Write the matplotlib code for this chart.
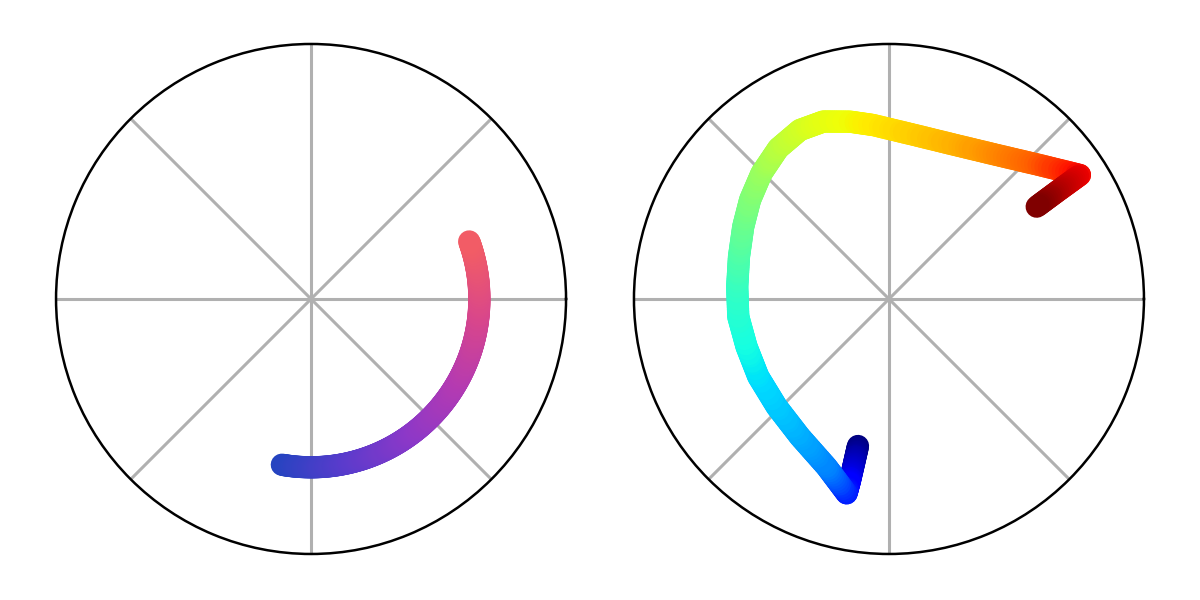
import numpy as np
import matplotlib
matplotlib.use("Agg")
from matplotlib import pyplot as plt
from matplotlib.collections import LineCollection
from matplotlib.colors import LinearSegmentedColormap

# Left plot: arc at constant radius, blue -> pink
left_theta_deg = [-100, -95, -90, -85, -80, -75, -70, -65, -60, -55, -50, -45, -40,
                  -35, -30, -25, -20, -15, -10, -5, 0, 5, 10, 15, 20]
left_r = [0.66] * len(left_theta_deg)
left_c = list(np.linspace(0, 1, len(left_theta_deg)))
left_colors = ["#2444c0", "#5a3bcc", "#8c38c8", "#b43ab2", "#d8468c", "#f25c66"]

# Right plot: path coloured with jet (c = position in the colormap)
right_theta_deg = [258.1, 258.0, 257.9, 257.7, 249.6, 237.1, 223.8, 210.7, 198.5,
                   186.7, 175.4, 164.3, 153.6, 144.5, 135.4, 126.3, 117.8, 110.3,
                   102.4, 95.2, 81.2, 66.5, 53.1, 41.9, 33.0, 32.6, 32.0]
right_r = [0.589, 0.66, 0.73, 0.780, 0.702, 0.643, 0.610, 0.596, 0.589,
           0.595, 0.597, 0.611, 0.638, 0.669, 0.702, 0.733, 0.749, 0.742,
           0.712, 0.685, 0.651, 0.658, 0.706, 0.788, 0.893, 0.787, 0.683]
right_c = [0.00, 0.05, 0.10, 0.15, 0.25, 0.29, 0.32, 0.34, 0.37,
           0.39, 0.41, 0.44, 0.47, 0.50, 0.53, 0.57, 0.60, 0.625,
           0.64, 0.66, 0.69, 0.72, 0.76, 0.81, 0.90, 0.95, 1.00]


def gradient_line(ax, theta_deg, r, c, cmap, pieces=12, straight=True):
    # split each segment in short pieces so that the colour blends smoothly;
    # pieces run straight on screen (x/y) unless straight=False
    t = np.radians(theta_deg)
    r = np.asarray(r)
    c = np.asarray(c)
    segs = []
    vals = []
    f = np.linspace(0, 1, pieces + 1)
    for i in range(len(t) - 1):
        if straight:
            x0, y0 = r[i] * np.cos(t[i]), r[i] * np.sin(t[i])
            x1, y1 = r[i + 1] * np.cos(t[i + 1]), r[i + 1] * np.sin(t[i + 1])
            xx = x0 + (x1 - x0) * f
            yy = y0 + (y1 - y0) * f
            tt = np.unwrap(np.arctan2(yy, xx))
            rr = np.hypot(xx, yy)
        else:
            tt = t[i] + (t[i + 1] - t[i]) * f
            rr = r[i] + (r[i + 1] - r[i]) * f
        cc = c[i] + (c[i + 1] - c[i]) * f
        pts = np.column_stack([tt, rr])
        segs.extend(np.stack([pts[:-1], pts[1:]], axis=1))
        vals.extend((cc[:-1] + cc[1:]) / 2)
    lc = LineCollection(segs, cmap=cmap, linewidths=8, capstyle="round")
    lc.set_array(np.array(vals))
    lc.set_clim(0, 1)
    ax.add_collection(lc)


def style_polar(ax):
    ax.set_ylim(0, 1)
    ax.set_yticks([])
    ax.set_thetagrids(range(0, 360, 45), labels=[])
    ax.grid(True, color="#b0b0b0", linewidth=1.1)
    ax.spines["polar"].set_linewidth(0.9)


fig = plt.figure(figsize=(6, 3), dpi=200)

ax1 = fig.add_axes([0.0467, 0.0767, 0.425, 0.85], projection="polar")
style_polar(ax1)
cmap_left = LinearSegmentedColormap.from_list("bluepink", left_colors)
gradient_line(ax1, left_theta_deg, left_r, left_c, cmap_left, straight=False)
ax1.set_ylim(0, 1)

ax2 = fig.add_axes([0.5283, 0.0767, 0.425, 0.85], projection="polar")
style_polar(ax2)
gradient_line(ax2, right_theta_deg, right_r, right_c, "jet")
ax2.set_ylim(0, 1)

fig.savefig("out.png")
